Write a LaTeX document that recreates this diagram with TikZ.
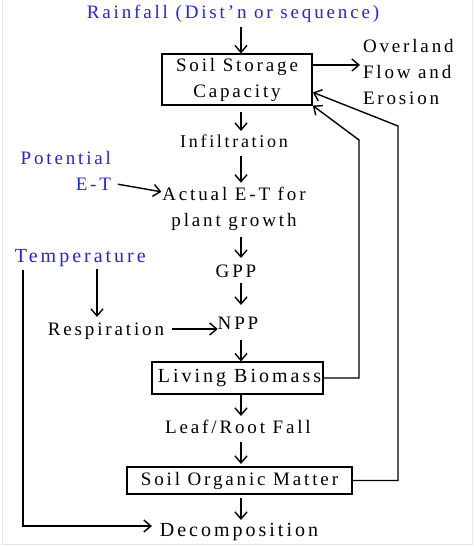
\documentclass[tikz,border=0pt]{standalone}
\usepackage{fontspec}
\setmainfont{Liberation Serif}[LetterSpace=15]
\usetikzlibrary{arrows.meta}
\begin{document}
\begin{tikzpicture}[x=1pt,y=1pt,
  every node/.style={inner sep=0pt, outer sep=0pt, font=\fontsize{19}{26}\selectfont},
  label/.style={text height=13pt, text depth=4pt},
  cause/.style={text=inputBlue},
  store/.style={draw=drawColor, line width=1.2pt},
  big/.style={font=\fontsize{20}{26}\selectfont},
  flow/.style={draw=drawColor, line width=1.4pt, -{Straight Barb[length=7pt,width=12pt,line width=1.4pt]}, shorten <=4pt, shorten >=4pt}]
\definecolor{drawColor}{RGB}{0,0,0}
\definecolor{inputBlue}{RGB}{35,35,225}
\definecolor{frameColor}{RGB}{228,228,228}
\path[use as bounding box] (0,0) rectangle (474,547);
\draw[frameColor, line width=1pt] (2,547) -- (2,2) -- (472.5,2) -- (472.5,547);
\coordinate (axis) at (241,0);

% stores and flows down the middle
\node[label, cause, anchor=base] (rain) at (233,528) {Rainfall (Dist’n or sequence)};
\node[store, minimum width=150pt, minimum height=51pt, align=center] (ssc) at (237,467.5) {Soil Storage\\Capacity};
\node[anchor=west, align=left] (over) at (363,475) {Overland\\Flow and\\Erosion};
\node[label, anchor=base, font=\fontsize{18}{26}\selectfont] (infil) at (234,399) {Infiltration};
\node[align=center] (aet) at (234,338.5) {Actual E-T for\\plant growth};
\node[label, anchor=base] (gpp) at (236,269) {GPP};
\node[label, anchor=base] (npp) at (238,217) {NPP};
\node[store, big, minimum width=171pt, minimum height=32pt] (lb) at (237.5,169) {\hspace{4pt}Living Biomass};
\node[label, anchor=base] (fall) at (238,113) {Leaf/Root Fall};
\node[store, minimum width=225pt, minimum height=27pt] (som) at (239.5,66.5) {Soil Organic Matter};
\node[label, big, anchor=base] (decomp) at (239,10) {Decomposition};

% driving inputs
\node[cause, anchor=east, align=right] (pet) at (111,376) {Potential\\E-T};
\node[label, cause, big, anchor=base west] (temp) at (15,284) {Temperature};
\node[label, anchor=base] (resp) at (106,211) {Respiration};

\draw[flow, shorten >=0.5pt] (rain.south -| axis) -- (ssc.north -| axis);
\draw[flow, shorten <=7pt] (ssc.south -| axis) -- (infil.north -| axis);
\draw[flow] (infil.south -| axis) -- (aet.north -| axis);
\draw[flow, shorten <=7pt, shorten >=7pt] (aet.south -| axis) -- (gpp.north -| axis);
\draw[flow, shorten <=1pt, shorten >=12pt] (gpp.south -| axis) -- (npp.north -| axis);
\draw[flow, shorten <=6pt, shorten >=0.5pt] (npp.south -| axis) -- (lb.north -| axis);
\draw[flow, shorten <=0pt, shorten >=5pt] (lb.south -| axis) -- (fall.north -| axis);
\draw[flow, shorten >=3pt] (fall.south -| axis) -- (som.north -| axis);
\draw[flow] (som.south -| axis) -- (decomp.north -| axis);
\draw[flow, shorten <=0pt, shorten >=3pt] ([yshift=14.5pt]ssc.east) -- ([yshift=14.5pt]ssc.east -| over.west);
\draw[flow, shorten <=7pt, shorten >=1pt] ([yshift=-12pt]pet.east) -- ([yshift=16.5pt]aet.west);
\draw[flow, shorten <=2pt, shorten >=6pt] ([xshift=-9pt]resp.north |- temp.south) -- ([xshift=-9pt]resp.north);
\draw[flow, shorten <=8pt, shorten >=0pt] ([yshift=2.5pt]resp.east) -- ([yshift=2.5pt]resp.east -| npp.west);
\draw[flow, shorten <=3pt, shorten >=8pt] ([xshift=8pt]temp.south west) |- ([yshift=6.5pt]decomp.west);

% returns to soil storage
\draw[flow, shorten <=0pt, shorten >=1pt] (lb.east) -| ++(36,238) -- (ssc.south east);
\draw[flow, shorten <=0pt, shorten >=1pt] (som.east) -| ++(46,354.5) -- ([yshift=-12.5pt]ssc.east);
\end{tikzpicture}
\end{document}
